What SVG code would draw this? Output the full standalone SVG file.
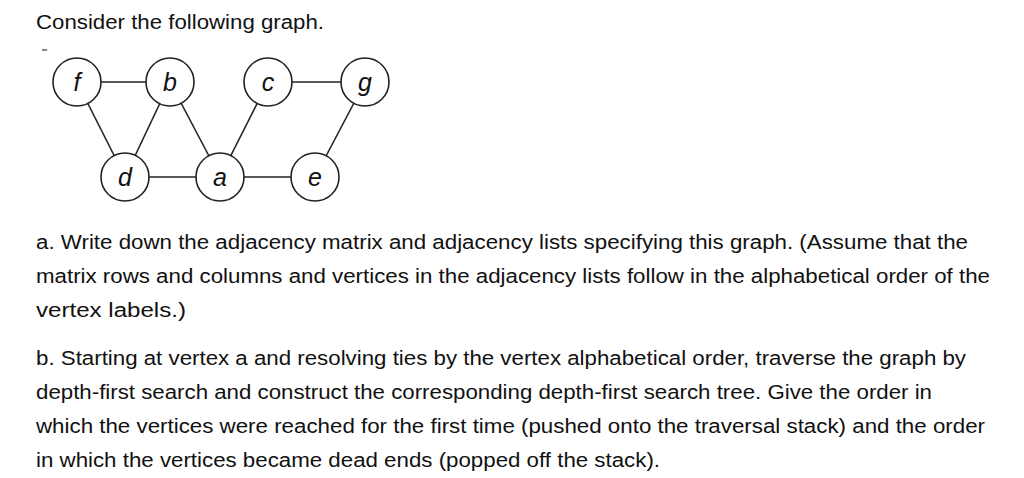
<svg xmlns="http://www.w3.org/2000/svg" width="1024" height="478" viewBox="0 0 1024 478">
<style>
.t{font-family:"Liberation Sans",Arial,sans-serif;font-size:20px;fill:#111}
.n circle{fill:#fff;stroke:#222;stroke-width:1.6}
.n text{font-family:"Liberation Sans",Arial,sans-serif;font-size:25px;font-style:italic;fill:#111;text-anchor:middle}
.e line{stroke:#222;stroke-width:1.6}
</style>
<rect width="1024" height="478" fill="#fff"/>
<text class="t" x="36" y="29" textLength="288" lengthAdjust="spacingAndGlyphs">Consider the following graph.</text>
<line x1="42" y1="50" x2="47" y2="50" stroke="#333" stroke-width="1.2"/>
<g class="e">
<line x1="77" y1="82" x2="170" y2="82"/>
<line x1="268" y1="82" x2="365" y2="82"/>
<line x1="77" y1="82" x2="125" y2="177"/>
<line x1="170" y1="82" x2="125" y2="177"/>
<line x1="170" y1="82" x2="220" y2="177"/>
<line x1="268" y1="82" x2="220" y2="177"/>
<line x1="365" y1="82" x2="315" y2="177"/>
<line x1="125" y1="177" x2="315" y2="177"/>
</g>
<g id="f" class="n"><circle cx="77" cy="82" r="24"/><text x="77" y="91">f</text></g>
<g id="b" class="n"><circle cx="170" cy="82" r="24"/><text x="170" y="91">b</text></g>
<g id="c" class="n"><circle cx="268" cy="82" r="24"/><text x="268" y="91">c</text></g>
<g id="g" class="n"><circle cx="365" cy="82" r="24"/><text x="365" y="91">g</text></g>
<g id="d" class="n"><circle cx="125" cy="177" r="24"/><text x="125" y="186">d</text></g>
<g id="a" class="n"><circle cx="220" cy="177" r="24"/><text x="220" y="186">a</text></g>
<g id="e" class="n"><circle cx="315" cy="177" r="24"/><text x="315" y="186">e</text></g>
<text class="t" x="36" y="249" textLength="932" lengthAdjust="spacingAndGlyphs">a. Write down the adjacency matrix and adjacency lists specifying this graph. (Assume that the</text>
<text class="t" x="36" y="283" textLength="954" lengthAdjust="spacingAndGlyphs">matrix rows and columns and vertices in the adjacency lists follow in the alphabetical order of the</text>
<text class="t" x="36" y="317" textLength="150" lengthAdjust="spacingAndGlyphs">vertex labels.)</text>
<text class="t" x="36" y="365" textLength="930" lengthAdjust="spacingAndGlyphs">b. Starting at vertex a and resolving ties by the vertex alphabetical order, traverse the graph by</text>
<text class="t" x="36" y="399" textLength="896" lengthAdjust="spacingAndGlyphs">depth-first search and construct the corresponding depth-first search tree. Give the order in</text>
<text class="t" x="36" y="433" textLength="949" lengthAdjust="spacingAndGlyphs">which the vertices were reached for the first time (pushed onto the traversal stack) and the order</text>
<text class="t" x="36" y="467" textLength="624" lengthAdjust="spacingAndGlyphs">in which the vertices became dead ends (popped off the stack).</text>
</svg>
